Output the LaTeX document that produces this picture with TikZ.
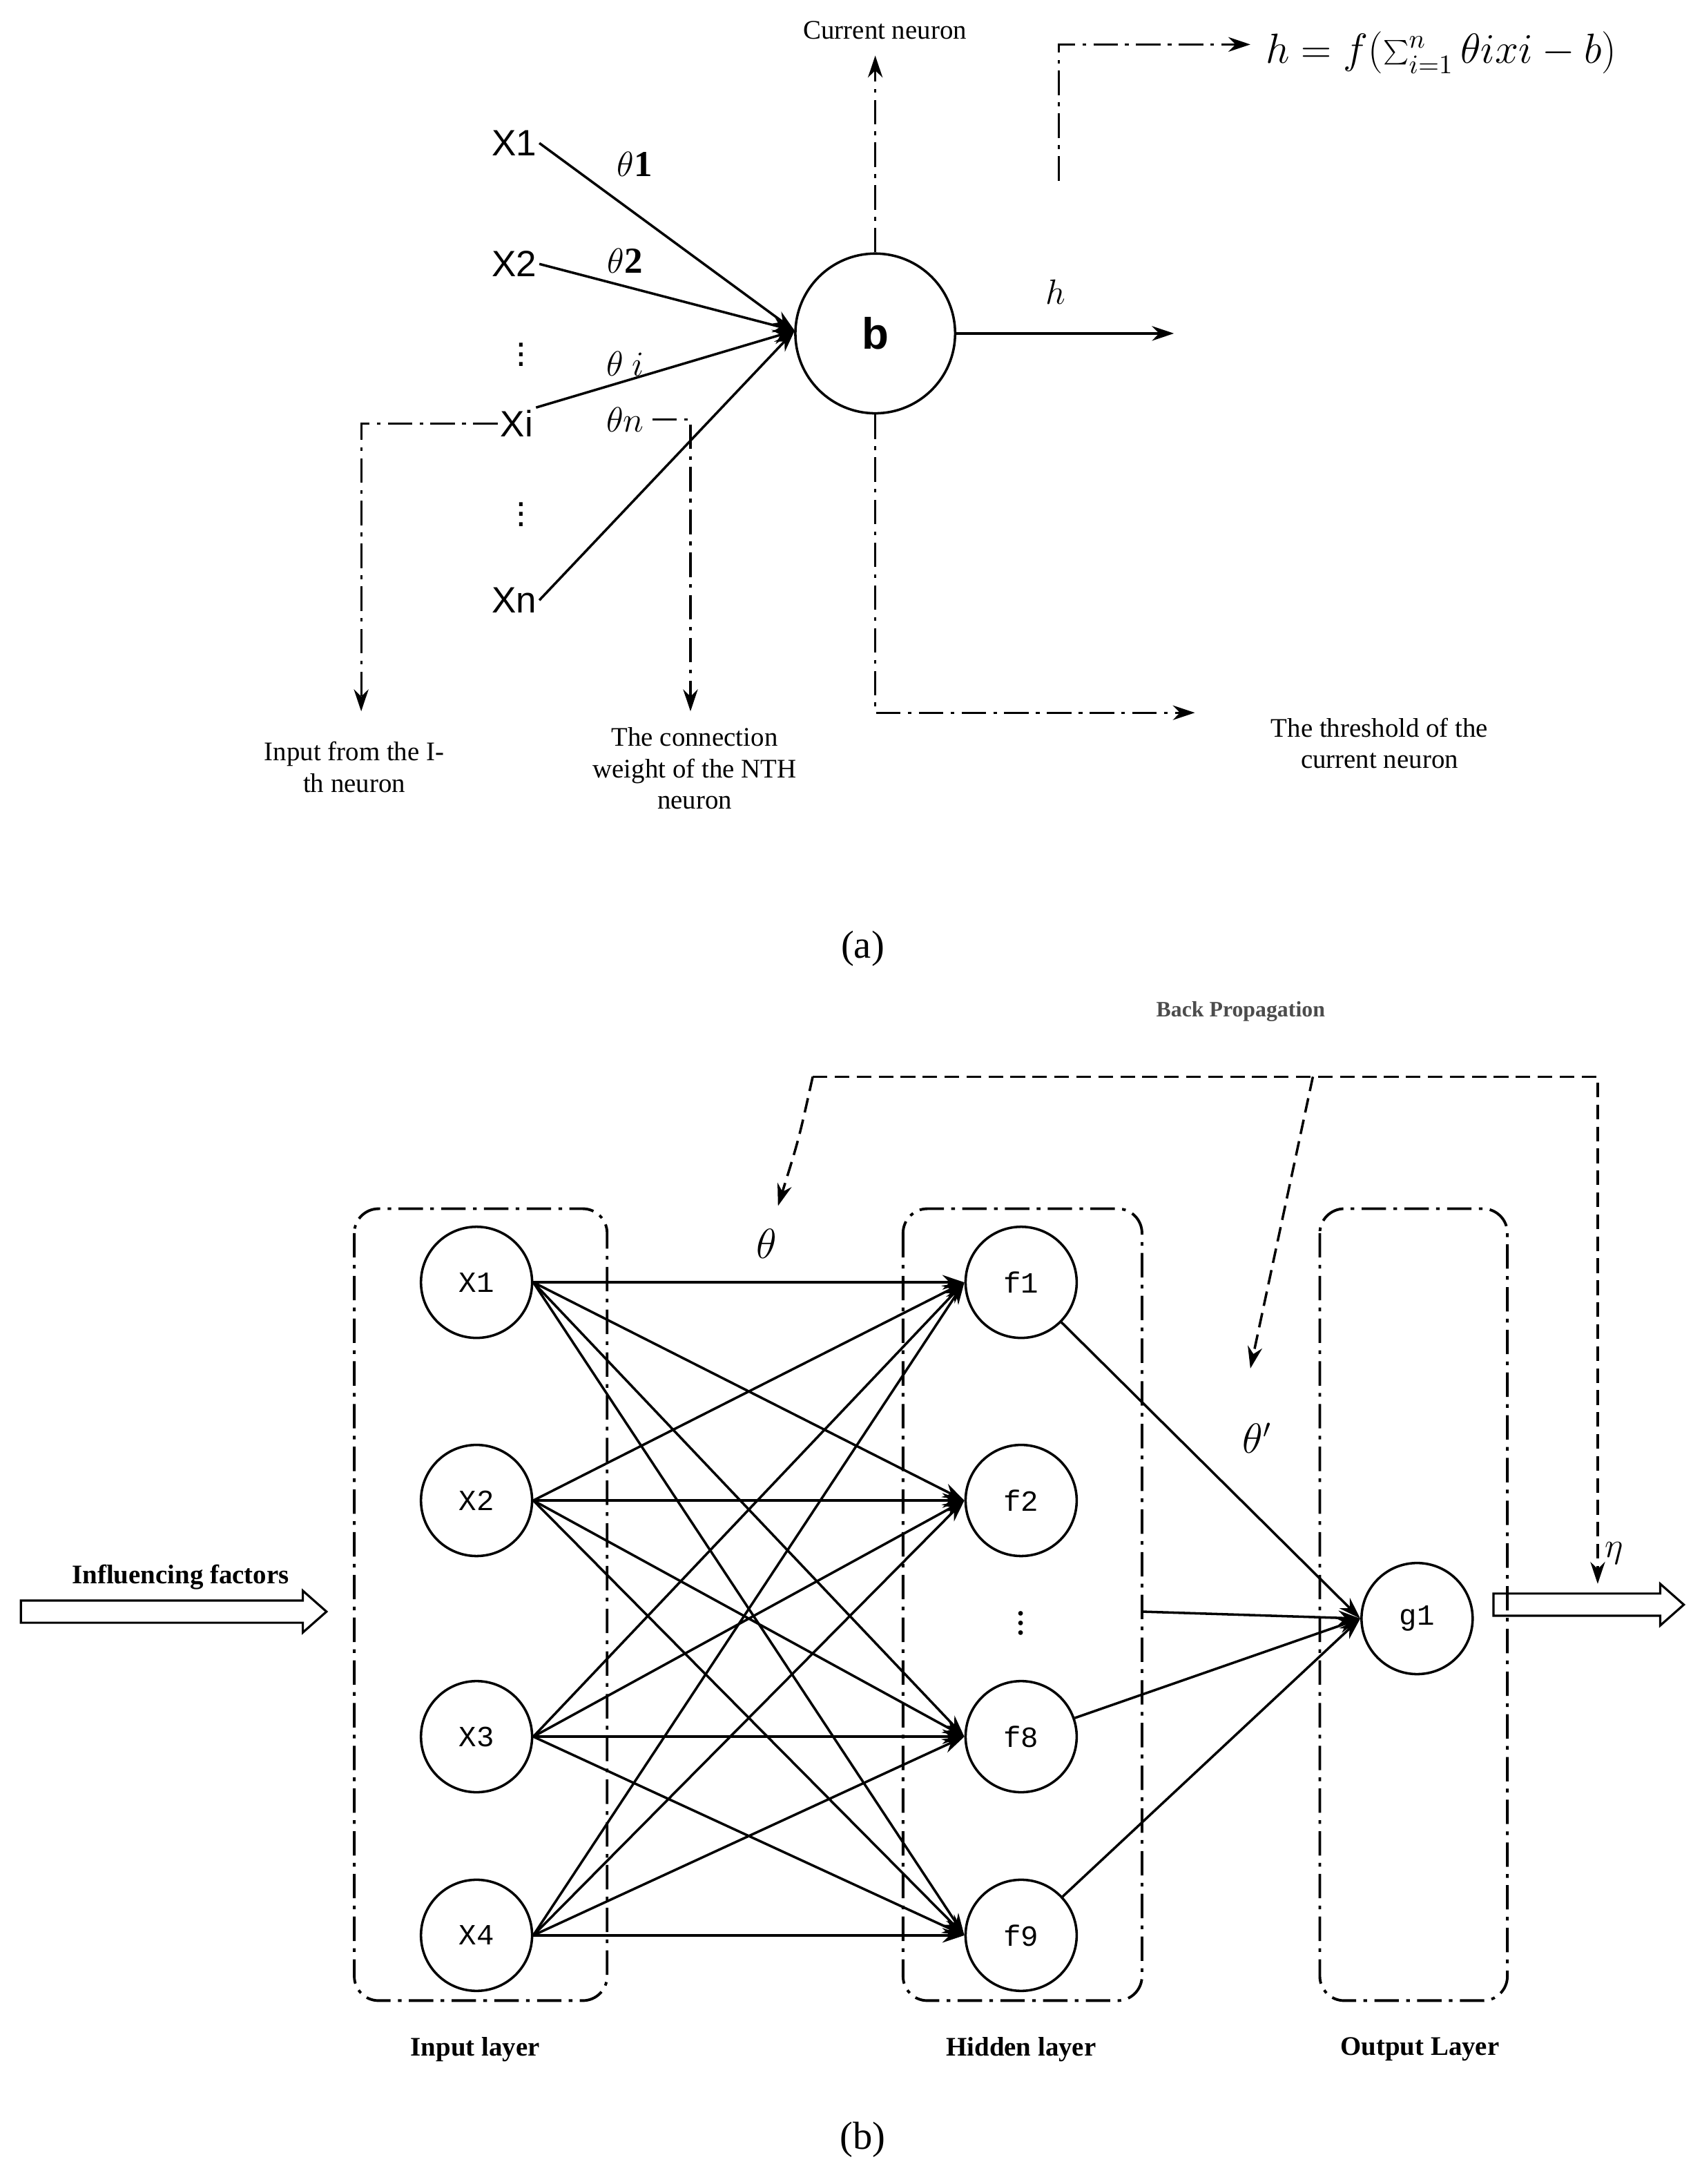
\documentclass[tikz,border=0pt]{standalone}
\usepackage{fontspec}
\setmainfont{Liberation Serif}
\newfontfamily\sansf{Liberation Sans}
\newfontfamily\monof{Liberation Mono}
\usetikzlibrary{arrows.meta}
\begin{document}
\begin{tikzpicture}[x=0.02cm,y=-0.02cm,
  dd/.style={line width=0.9pt,dash pattern=on 10pt off 3pt on 1.5pt off 3pt},
  ln/.style={line width=1pt},
  tip/.style={-{Stealth[length=9pt,width=6pt]}},
  lbl/.style={font=\fontsize{11}{13}\selectfont,align=center},
  xin/.style={font=\sansf\fontsize{15}{17}\selectfont,inner sep=1pt},
  neu/.style={circle,draw,line width=1pt,minimum size=1.6cm,font=\monof\fontsize{12}{14}\selectfont},
  box/.style={draw,dd,rounded corners=10pt,line width=1.1pt},
  bl/.style={font=\bfseries\fontsize{11}{13}\selectfont}]
\useasboundingbox (0,0) rectangle (1225,1572);
% ---------- (a)
\node[circle,draw,ln,minimum size=2.3cm,font=\sansf\bfseries\fontsize{18}{20}\selectfont] (b) at (630,240) {b};
\node[xin] (x1) at (370,103) {X1};
\node[xin] (x2) at (370,190) {X2};
\node[xin] (xv1) at (375,250) {$\vdots$};
\node[xin] (xi) at (372,305) {Xi};
\node[xin] (xv2) at (375,365) {$\vdots$};
\node[xin] (xn) at (370,432) {Xn};
\coordinate (in) at (572,238);
\draw[ln,tip] (x1.east) -- (in);
\draw[ln,tip] (x2.east) -- (in);
\draw[ln,tip] (xi.north east) -- (in);
\draw[ln,tip] (xn.east) -- (in);
\node[font=\fontsize{15}{17}\selectfont] (t1) at (457,118) {$\theta\mathbf{1}$};
\node[font=\fontsize{15}{17}\selectfont] (t2) at (450,188) {$\theta\mathbf{2}$};
\node[font=\fontsize{15}{17}\selectfont] (ti) at (450,262) {$\theta\ i$};
\node[font=\fontsize{15}{17}\selectfont] (tn) at (450,302) {$\theta n$};
\coordinate (hend) at (845,240);
\draw[ln,tip] (b.east) -- (hend);
\node[font=\fontsize{15}{17}\selectfont] (hl) at (760,210) {$h$};
\node[lbl] (cn) at (637,22) {Current neuron};
\draw[dd,tip] (b.north) -- (630,40);
\node[font=\fontsize{16}{18}\selectfont,anchor=west] (fm) at (905,38) {$h=f(\sum_{i=1}^{n}\theta ixi-b)$};
\draw[dd,tip] (762,130) -- (762,32) -- (900,32);
\node[lbl] (thr) at (993,535) {The threshold of the\\current neuron};
\draw[dd,tip] (b.south) -- (630,513) -- (860,513);
\node[lbl] (inp) at (255,552) {Input from the I-\\th neuron};
\draw[dd,tip] (xi.west) -- (260,305) -- (260,512);
\node[lbl] (cw) at (500,553) {The connection\\weight of the NTH\\neuron};
\draw[dd,tip] (tn.east) -- (497,302) -- (497,512);
\node[font=\fontsize{16}{18}\selectfont] (la) at (621,683) {(a)};
% ---------- (b)
\node[font=\bfseries\fontsize{9}{11}\selectfont,text=black!70] (bp) at (893,728) {Back Propagation};
\draw[box] (255,870) rectangle (437,1440);
\draw[box] (650,870) rectangle (822,1440);
\draw[box] (950,870) rectangle (1085,1440);
\node[bl] (il) at (342,1475) {Input layer};
\node[bl] (hl2) at (735,1475) {Hidden layer};
\node[bl] (ol) at (1022,1475) {Output Layer};
\foreach \n/\y in {1/923,2/1080,3/1250,4/1393}{\node[neu] (X\n) at (343,\y) {X\n};}
\foreach \n/\y in {1/923,2/1080,8/1250,9/1393}{\node[neu] (F\n) at (735,\y) {f\n};}
\node[font=\fontsize{16}{18}\selectfont] (fv) at (735,1163) {$\vdots$};
\node[neu] (G) at (1020,1165) {g1};
\foreach \a in {1,2,3,4}{\foreach \f in {1,2,8,9}{\draw[ln,tip] (X\a.east) -- (F\f.west);}}
\foreach \f in {1,8,9}{\draw[ln,tip] (F\f) -- (G.west);}
\coordinate (hb) at (822,1160);
\draw[ln,tip] (hb) -- (G.west);
\node[font=\fontsize{16}{18}\selectfont] (th) at (552,895) {$\theta$};
\node[font=\fontsize{16}{18}\selectfont] (thp) at (905,1035) {$\theta'$};
\node[font=\fontsize{14}{16}\selectfont] (eta) at (1162,1118) {$\eta$};
\draw[dash pattern=on 6pt off 3pt,line width=1pt,tip] (585,775) .. controls (575,820) .. (560,868);
\draw[dash pattern=on 6pt off 3pt,line width=1pt,tip] (585,775) -- (1150,775) -- (1150,1140);
\draw[dash pattern=on 6pt off 3pt,line width=1pt,tip] (945,775) -- (900,985);
\node[font=\bfseries\fontsize{11}{13}\selectfont] (inf) at (130,1135) {Influencing factors};
\draw[line width=0.9pt] (15,1152) -- (218,1152) -- (218,1145) -- (235,1160) -- (218,1175) -- (218,1168) -- (15,1168) -- cycle;
\draw[line width=0.9pt] (1075,1147) -- (1195,1147) -- (1195,1140) -- (1212,1155) -- (1195,1170) -- (1195,1163) -- (1075,1163) -- cycle;
\node[font=\fontsize{16}{18}\selectfont] (lb) at (621,1540) {(b)};
\end{tikzpicture}
\end{document}
